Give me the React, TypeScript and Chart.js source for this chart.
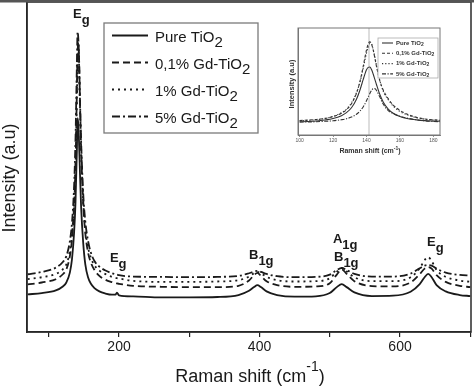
import React, { useEffect, useRef } from 'react';
import { Chart, registerables } from 'chart.js';

Chart.register(...registerables);

// ---------- main chart data ----------
const ramanShift = [70, 90, 110, 120, 125, 130, 133, 136, 138, 140, 141, 142, 143, 144, 146, 149, 152, 156, 160, 165, 172, 180, 190, 195, 197, 200, 220, 260, 300, 340, 370, 385, 392, 397, 402, 410, 425, 450, 480, 500, 510, 517, 524, 535, 560, 590, 615, 628, 635, 640, 645, 652, 665, 685, 700];
const pureTiO2 = [11.4, 11.8, 12.6, 13.8, 15.0, 18.0, 22.0, 30.0, 39.0, 55.0, 64.8, 63.0, 58.0, 51.0, 38.0, 27.0, 20.5, 16.5, 14.6, 13.3, 12.3, 11.7, 11.3, 11.3, 11.9, 11.1, 10.8, 10.5, 10.5, 10.6, 11.2, 12.5, 13.6, 14.2, 13.6, 12.3, 11.2, 10.7, 10.8, 11.8, 13.6, 14.5, 13.6, 12.0, 10.9, 11.0, 12.2, 14.5, 16.6, 17.6, 16.6, 14.2, 12.3, 11.2, 10.9];
const gd01TiO2 = [14.4, 15.0, 16.0, 17.5, 19.0, 23.0, 28.0, 38.0, 50.0, 73.0, 84.0, 88.0, 84.0, 74.0, 56.0, 39.0, 30.0, 24.0, 21.0, 18.8, 17.0, 15.9, 15.1, 14.8, 14.7, 14.6, 14.0, 13.7, 13.6, 13.6, 14.0, 15.6, 17.2, 17.9, 17.0, 15.4, 14.2, 13.7, 13.8, 14.8, 17.4, 19.0, 17.6, 15.4, 13.9, 13.8, 15.0, 17.5, 19.2, 19.7, 19.2, 17.2, 15.2, 14.0, 13.6];
const gd1TiO2 = [16.0, 16.6, 17.6, 19.0, 20.5, 24.5, 29.5, 39.0, 50.0, 71.0, 82.0, 86.0, 82.0, 72.0, 55.0, 39.5, 31.0, 25.5, 22.5, 20.2, 18.6, 17.6, 16.7, 16.4, 16.3, 16.2, 15.5, 15.2, 15.2, 15.3, 15.7, 16.8, 17.8, 18.2, 17.8, 16.7, 15.7, 15.3, 15.4, 16.3, 18.3, 19.4, 18.4, 16.6, 15.4, 15.4, 16.6, 19.3, 21.8, 22.7, 21.5, 18.8, 16.7, 15.6, 15.2];
const gd5TiO2 = [17.5, 18.2, 19.5, 21.2, 23.0, 27.5, 33.0, 44.0, 58.0, 81.0, 91.0, 89.0, 83.0, 74.0, 58.0, 42.0, 33.5, 27.5, 24.0, 21.5, 19.8, 18.7, 17.8, 17.5, 17.4, 17.2, 16.8, 16.7, 16.6, 16.7, 17.0, 17.8, 18.3, 18.5, 18.2, 17.6, 16.9, 16.6, 16.7, 17.4, 18.8, 19.4, 18.8, 17.6, 16.8, 16.8, 17.7, 19.3, 20.1, 20.3, 20.1, 19.2, 18.0, 17.3, 17.1];

const seriesNames = ['Pure TiO', '0,1% Gd-TiO', '1% Gd-TiO', '5% Gd-TiO'];
const seriesSub = ['2', '2', '2', '2'];
const insetSeriesSub = ['2', '2', '2', '2'];

const xTickValues = [100, 200, 300, 400, 500, 600, 700];
const xLabelValues = [200, 400, 600];

// peak assignments (position in data units, label text)
const peakX = [134.5, 187, 385, 504.5, 506, 638.4];
const peakY = [95.2, 21.1, 22.0, 26.9, 21.5, 26.0];
const peakMain = ['E', 'E', 'B', 'A', 'B', 'E'];
const peakSub = ['g', 'g', '1g', '1g', '1g', 'g'];

// ---------- inset data ----------
const insetShift = [100, 105, 110, 115, 120, 125, 128, 131, 134, 136, 138, 139, 140, 141, 142, 143, 144, 145, 146, 148, 150, 153, 156, 160, 165, 170, 175, 180, 185];
const insetPure = [12.3, 12.6, 13.1, 14.0, 15.4, 18.1, 20.9, 25.5, 33.5, 41.6, 51.7, 56.7, 60.9, 63.2, 63.5, 61.2, 57.0, 52.0, 47.0, 37.8, 30.8, 24.2, 20.3, 17.3, 15.2, 14.1, 13.4, 13.0, 12.7];
const inset01 = [13.5, 13.9, 14.5, 15.5, 17.2, 20.3, 23.6, 29.2, 39.0, 49.5, 63.9, 72.0, 79.5, 85.0, 87.0, 85.0, 79.5, 72.0, 64.0, 50.5, 42.0, 34.0, 28.0, 23.0, 19.0, 16.5, 15.0, 14.2, 13.8];
const inset1 = [13.2, 13.7, 14.3, 15.4, 17.4, 20.8, 24.2, 30.0, 39.5, 49.0, 62.0, 69.5, 76.5, 82.0, 85.5, 85.0, 80.0, 73.0, 65.0, 51.0, 41.0, 33.0, 27.0, 22.0, 18.5, 16.2, 14.8, 14.0, 13.5];
const inset5 = [12.1, 12.2, 12.4, 12.8, 13.3, 14.3, 15.2, 16.8, 19.4, 22.2, 26.2, 28.9, 32.0, 35.4, 38.8, 41.6, 43.3, 43.3, 41.6, 35.4, 28.9, 22.8, 20.0, 17.5, 15.5, 14.2, 13.2, 12.7, 12.4];
const insetTickValues = [100, 120, 140, 160, 180];
const insetMarker = 141.5;

const FONT = "'Liberation Sans', Arial, Helvetica, sans-serif";
const INK = '#1a1a1a';
const mainDashes = [[], [7, 4], [2, 4], [8, 3, 2, 3]];
const insetDashes = [[], [3, 2], [1.2, 2], [4, 1.5, 1.2, 1.5]];

function drawSubText(ctx: CanvasRenderingContext2D, x: number, y: number, main: string, sub: string, font: string, subFont: string, dy: number) {
  ctx.font = font;
  ctx.fillText(main, x, y);
  const w = ctx.measureText(main).width;
  ctx.font = subFont;
  ctx.fillText(sub, x + w, y + dy);
}

function drawSupTitle(ctx: CanvasRenderingContext2D, cx: number, y: number, main: string, sup: string, tail: string, font: string, supFont: string, rise: number) {
  ctx.font = font;
  const w1 = ctx.measureText(main).width;
  const w3 = ctx.measureText(tail).width;
  ctx.font = supFont;
  const w2 = ctx.measureText(sup).width;
  const x0 = cx - (w1 + w2 + w3) / 2;
  ctx.textAlign = 'left';
  ctx.textBaseline = 'alphabetic';
  ctx.font = font;
  ctx.fillText(main, x0, y);
  ctx.font = supFont;
  ctx.fillText(sup, x0 + w1, y - rise);
  ctx.font = font;
  ctx.fillText(tail, x0 + w1 + w2, y);
}

const mainDecor = {
  id: 'mainDecor',
  afterDraw(chart: any) {
    const ctx: CanvasRenderingContext2D = chart.ctx;
    const a = chart.chartArea;
    const xs = chart.scales.x;
    const ys = chart.scales.y;
    ctx.save();
    // frame
    ctx.strokeStyle = '#2a2a2a';
    ctx.lineWidth = 1.5;
    ctx.strokeRect(a.left, a.top, a.right - a.left, a.bottom - a.top);
    ctx.fillStyle = '#555';
    ctx.fillRect(0, 0, chart.width, 2.5);

    // peak labels
    ctx.fillStyle = INK;
    ctx.textAlign = 'left';
    ctx.textBaseline = 'alphabetic';
    for (let i = 0; i < peakX.length; i++) {
      const px = xs.getPixelForValue(peakX[i]);
      const py = ys.getPixelForValue(peakY[i]);
      drawSubText(ctx, px, py, peakMain[i], peakSub[i], `bold 13px ${FONT}`, `bold 13px ${FONT}`, 6);
    }

    // legend
    const lx = 104, ly = 23, lw = 154, lh = 110;
    ctx.fillStyle = '#fff';
    ctx.fillRect(lx, ly, lw, lh);
    ctx.strokeStyle = '#7a7a7a';
    ctx.lineWidth = 1.3;
    ctx.setLineDash([]);
    ctx.strokeRect(lx, ly, lw, lh);
    for (let i = 0; i < seriesNames.length; i++) {
      const base = 42 + i * 27;
      ctx.strokeStyle = INK;
      ctx.lineWidth = 2;
      ctx.setLineDash(mainDashes[i]);
      ctx.beginPath();
      ctx.moveTo(112, base - 6.5);
      ctx.lineTo(148, base - 6.5);
      ctx.stroke();
      ctx.setLineDash([]);
      ctx.fillStyle = INK;
      drawSubText(ctx, 155, base, seriesNames[i], seriesSub[i], `15px ${FONT}`, `15px ${FONT}`, 5);
    }

    // axis titles
    ctx.fillStyle = INK;
    drawSupTitle(ctx, 250, 382, 'Raman shift (cm', '-1', ')', `18px ${FONT}`, `14px ${FONT}`, 11);
    ctx.translate(10, 178);
    ctx.rotate(-Math.PI / 2);
    ctx.textAlign = 'center';
    ctx.textBaseline = 'middle';
    ctx.font = `18px ${FONT}`;
    ctx.fillText('Intensity (a.u)', 0, 0);
    ctx.restore();
  },
};

const insetDecor = {
  id: 'insetDecor',
  beforeDatasetsDraw(chart: any) {
    const ctx: CanvasRenderingContext2D = chart.ctx;
    const a = chart.chartArea;
    const px = chart.scales.x.getPixelForValue(insetMarker);
    ctx.save();
    ctx.strokeStyle = '#aaa';
    ctx.lineWidth = 0.8;
    ctx.beginPath();
    ctx.moveTo(px, a.top);
    ctx.lineTo(px, a.bottom);
    ctx.stroke();
    ctx.restore();
  },
  afterDraw(chart: any) {
    const ctx: CanvasRenderingContext2D = chart.ctx;
    const a = chart.chartArea;
    ctx.save();
    ctx.strokeStyle = '#777';
    ctx.lineWidth = 1;
    ctx.strokeRect(a.left, a.top, a.right - a.left, a.bottom - a.top);

    // legend
    const lx = 93, ly = 16, lw = 60, lh = 40;
    ctx.fillStyle = '#fff';
    ctx.fillRect(lx, ly, lw, lh);
    ctx.strokeStyle = '#aaa';
    ctx.lineWidth = 0.8;
    ctx.strokeRect(lx, ly, lw, lh);
    for (let i = 0; i < seriesNames.length; i++) {
      const cy = 21 + i * 10.3;
      ctx.strokeStyle = '#333';
      ctx.lineWidth = 1.1;
      ctx.setLineDash(insetDashes[i]);
      ctx.beginPath();
      ctx.moveTo(97, cy);
      ctx.lineTo(108, cy);
      ctx.stroke();
      ctx.setLineDash([]);
      ctx.fillStyle = '#333';
      ctx.textAlign = 'left';
      ctx.textBaseline = 'middle';
      drawSubText(ctx, 111, cy, seriesNames[i], insetSeriesSub[i], `bold 6px ${FONT}`, `bold 5px ${FONT}`, 1.5);
    }

    ctx.fillStyle = '#333';
    drawSupTitle(ctx, 85, 131, 'Raman shift (cm', '-1', ')', `bold 7px ${FONT}`, `bold 5px ${FONT}`, 3);
    ctx.translate(7, 62);
    ctx.rotate(-Math.PI / 2);
    ctx.textAlign = 'center';
    ctx.textBaseline = 'middle';
    ctx.font = `bold 7.5px ${FONT}`;
    ctx.fillText('Intensity (a.u)', 0, 0);
    ctx.restore();
  },
};

export default function App() {
  const mainRef = useRef<HTMLCanvasElement>(null);
  const insetRef = useRef<HTMLCanvasElement>(null);

  useEffect(() => {
    const mainSeries = [pureTiO2, gd01TiO2, gd1TiO2, gd5TiO2];
    const main = new Chart(mainRef.current as HTMLCanvasElement, {
      type: 'line',
      data: {
        datasets: mainSeries.map((vals, i) => ({
          label: seriesNames[i] + seriesSub[i],
          data: ramanShift.map((x, j) => ({ x, y: vals[j] })),
          borderColor: INK,
          borderWidth: 1.8,
          borderDash: mainDashes[i],
          pointRadius: 0,
          fill: false,
          cubicInterpolationMode: 'monotone' as const,
        })),
      },
      options: {
        animation: false,
        responsive: false,
        maintainAspectRatio: false,
        layout: { padding: { top: 2, right: 3, left: 0, bottom: 0 } },
        plugins: { legend: { display: false }, tooltip: { enabled: false } },
        scales: {
          x: {
            type: 'linear',
            min: 69,
            max: 701,
            afterFit: (s: any) => { s.height = 55; },
            afterBuildTicks: (s: any) => { s.ticks = xTickValues.map((v) => ({ value: v })); },
            ticks: {
              autoSkip: false,
              maxRotation: 0,
              padding: 2,
              color: INK,
              font: { family: FONT, size: 14 },
              callback: (v: any) => (xLabelValues.includes(Number(v)) ? String(v) : ''),
            },
            grid: { drawOnChartArea: false, tickLength: 5, color: '#222', lineWidth: 1.2 },
            border: { display: true, color: '#222', width: 1.5 },
          },
          y: {
            type: 'linear',
            min: 0,
            max: 100,
            afterFit: (s: any) => { s.width = 27; },
            ticks: { display: false },
            grid: { display: false },
            border: { display: true, color: '#222', width: 1.5 },
          },
        },
      },
      plugins: [mainDecor],
    });

    const insetSeries = [insetPure, inset01, inset1, inset5];
    const inset = new Chart(insetRef.current as HTMLCanvasElement, {
      type: 'line',
      data: {
        datasets: insetSeries.map((vals, i) => ({
          label: seriesNames[i] + insetSeriesSub[i],
          data: insetShift.map((x, j) => ({ x, y: vals[j] })),
          borderColor: '#333',
          borderWidth: 1.1,
          borderDash: insetDashes[i],
          pointRadius: 0,
          fill: false,
          cubicInterpolationMode: 'monotone' as const,
        })),
      },
      options: {
        animation: false,
        responsive: false,
        maintainAspectRatio: false,
        layout: { padding: { top: 6, right: 10, left: 0, bottom: 0 } },
        plugins: { legend: { display: false }, tooltip: { enabled: false } },
        scales: {
          x: {
            type: 'linear',
            min: 99,
            max: 184,
            afterFit: (s: any) => { s.height = 25; },
            afterBuildTicks: (s: any) => { s.ticks = insetTickValues.map((v) => ({ value: v })); },
            ticks: {
              autoSkip: false,
              maxRotation: 0,
              padding: 1,
              color: '#555',
              font: { family: FONT, size: 5 },
            },
            grid: { drawOnChartArea: false, tickLength: 2, color: '#777', lineWidth: 0.8 },
            border: { display: true, color: '#777', width: 1 },
          },
          y: {
            type: 'linear',
            min: 0,
            max: 100,
            afterFit: (s: any) => { s.width = 13; },
            ticks: { display: false },
            grid: { display: false },
            border: { display: true, color: '#777', width: 1 },
          },
        },
      },
      plugins: [insetDecor],
    });

    return () => {
      main.destroy();
      inset.destroy();
    };
  }, []);

  return (
    <div style={{ position: 'fixed', left: 0, top: 0, width: 474, height: 387, background: '#fff' }}>
      <canvas ref={mainRef} width={474} height={387} style={{ position: 'absolute', left: 0, top: 0 }} />
      <canvas ref={insetRef} width={165} height={138} style={{ position: 'absolute', left: 285, top: 22 }} />
    </div>
  );
}
